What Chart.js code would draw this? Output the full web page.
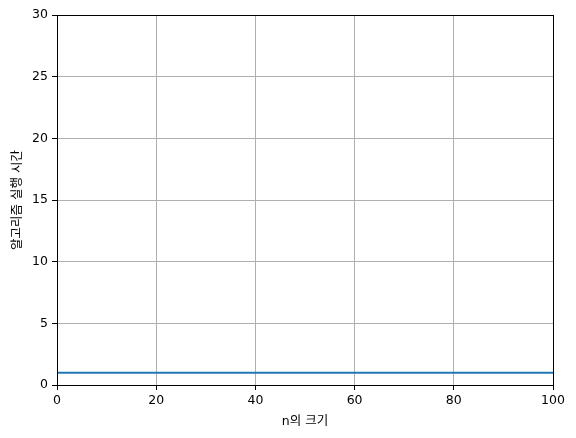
<!DOCTYPE html>
<html>
<head>
<meta charset="utf-8">
<script src="https://cdn.jsdelivr.net/npm/chart.js@4/dist/chart.umd.min.js"></script>
<style>
html,body{margin:0;padding:0;background:#fff;}
canvas{display:block;}
</style>
</head>
<body>
<canvas id="c" width="576" height="438"></canvas>
<script>
const nValues = [0, 10, 20, 30, 40, 50, 60, 70, 80, 90, 100];
const timeValues = [1, 1, 1, 1, 1, 1, 1, 1, 1, 1, 1];
const xTicks = [0, 20, 40, 60, 80, 100];
const yTicks = [0, 5, 10, 15, 20, 25, 30];
const xTitle = "n의 크기";
const yTitle = "알고리즘 실행 시간";

const FONT = "'DejaVu Sans', 'Noto Sans CJK KR', sans-serif";

const frame = {
  id: 'frame',
  afterDatasetsDraw(chart) {
    const a = chart.chartArea, ctx = chart.ctx;
    ctx.save();
    ctx.strokeStyle = '#000';
    ctx.lineWidth = 1;
    ctx.strokeRect(Math.round(a.left) + 0.5, Math.round(a.top) + 0.5,
                   Math.round(a.right - a.left), Math.round(a.bottom - a.top));
    ctx.restore();
  }
};

new Chart(document.getElementById('c'), {
  type: 'line',
  data: {
    datasets: [{
      data: nValues.map((x, i) => ({x: x, y: timeValues[i]})),
      borderColor: '#1f77b4',
      borderWidth: 2,
      pointRadius: 0,
      fill: false,
      tension: 0
    }]
  },
  options: {
    responsive: false,
    animation: false,
    devicePixelRatio: 1,
    layout: {padding: {left: 0, top: 15, right: 23, bottom: 0}},
    plugins: {legend: {display: false}, tooltip: {enabled: false}},
    scales: {
      x: {
        type: 'linear', min: 0, max: 100,
        afterFit(s) { s.height = 53; },
        afterBuildTicks(s) { s.ticks = xTicks.map(v => ({value: v})); },
        grid: {color: '#b0b0b0', lineWidth: 1, tickLength: 5, tickColor: '#000', drawTicks: true},
        border: {display: false},
        ticks: {color: '#000', font: {family: FONT, size: 12.5}, padding: 3, maxRotation: 0},
        title: {display: true, text: xTitle, color: '#000', font: {family: FONT, size: 12.5}, padding: {top: 0, bottom: 9}}
      },
      y: {
        type: 'linear', min: 0, max: 30,
        afterFit(s) { s.width = 57; },
        afterBuildTicks(s) { s.ticks = yTicks.map(v => ({value: v})); },
        grid: {color: '#b0b0b0', lineWidth: 1, tickLength: 5, tickColor: '#000', drawTicks: true},
        border: {display: false},
        ticks: {color: '#000', font: {family: FONT, size: 12.5}, padding: 4},
        title: {display: true, text: yTitle, color: '#000', font: {family: FONT, size: 12.5}, padding: {top: 10, bottom: 4}}
      }
    }
  },
  plugins: [frame]
});
</script>
</body>
</html>
